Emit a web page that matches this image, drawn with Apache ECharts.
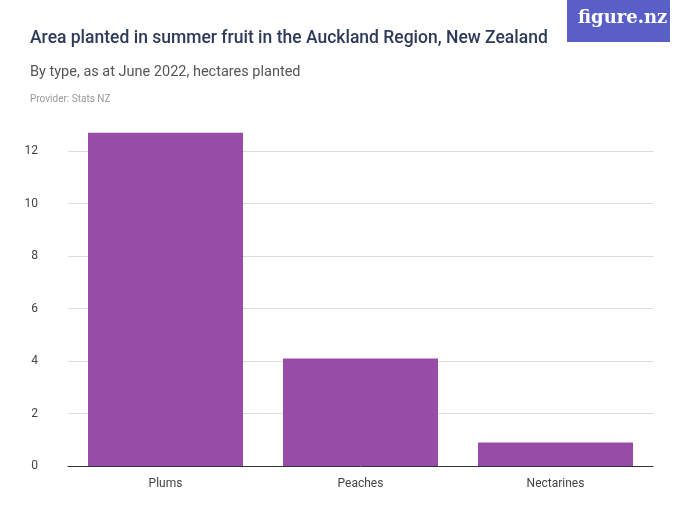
<!DOCTYPE html>
<html><head><meta charset="utf-8">
<script src="https://cdn.jsdelivr.net/npm/echarts@6/dist/echarts.min.js"></script>
<style>body{margin:0}#c{width:700px;height:525px}</style></head>
<body><div id="c"></div>
<script>
const categories = ["Plums","Peaches","Nectarines"];
const values = [12.7, 4.1, 0.9];
const chart = echarts.init(document.getElementById('c'));
chart.setOption({
  animation:false,
  title:[
    {text:"Area planted in summer fruit in the Auckland Region, New Zealand",left:25,top:25,textStyle:{fontFamily:"Roboto",fontSize:17.5,fontWeight:500,color:"#2e3a59"}},
    {text:"By type, as at June 2022, hectares planted",left:25,top:60,textStyle:{fontFamily:"Roboto",fontSize:14.5,fontWeight:400,color:"#555"}},
    {text:"Provider: Stats NZ",left:25,top:89,textStyle:{fontFamily:"Roboto",fontSize:10,fontWeight:400,color:"#999"}}
  ],
  graphic:[
    {type:'rect',left:567,top:0,shape:{width:103,height:42},style:{fill:'#5a5fc8'}},
    {type:'text',left:578,top:9,style:{text:'figure.nz',fill:'#fff',font:'bold 18px "DejaVu Serif"'}}
  ],
  grid:{left:68,right:47,top:151,bottom:59},
  xAxis:{type:'category',data:categories,axisTick:{show:false},axisLine:{lineStyle:{color:'#333'}},
    axisLabel:{color:'#444',fontFamily:'Roboto',fontSize:12,margin:12}},
  yAxis:{type:'value',min:0,max:12,interval:2,axisLabel:{color:'#444',fontFamily:'Roboto',fontSize:12,margin:30},
    splitLine:{lineStyle:{color:'#ddd'}}},
  series:[{type:'bar',data:values,barWidth:'79.5%',clip:false,itemStyle:{color:'#974ca8'}}]
});
</script></body></html>
